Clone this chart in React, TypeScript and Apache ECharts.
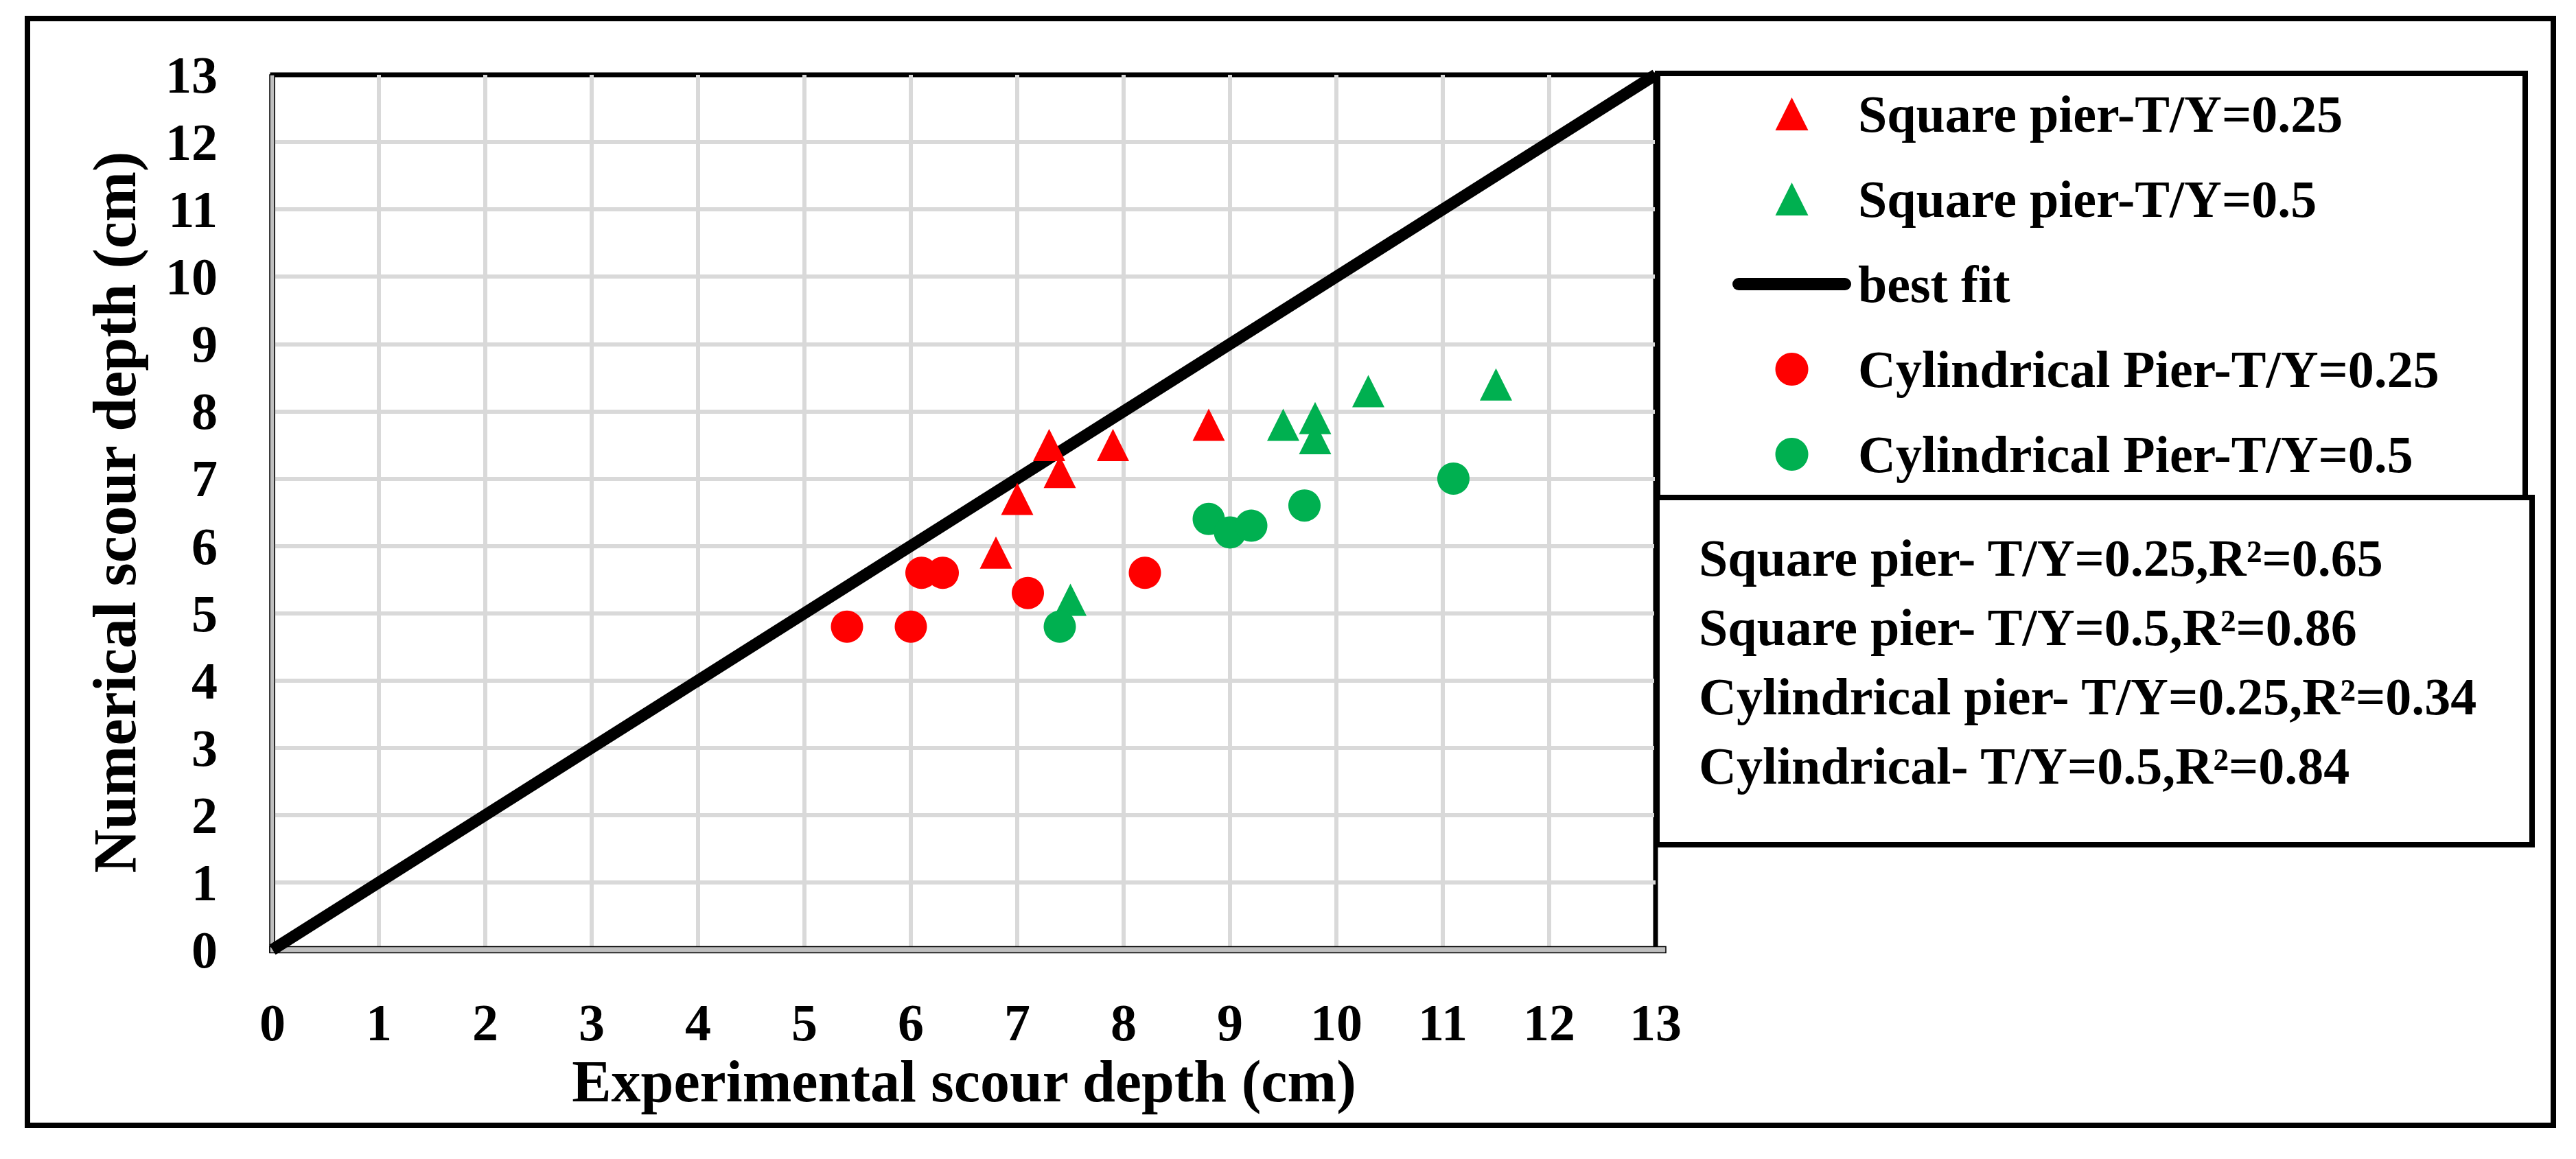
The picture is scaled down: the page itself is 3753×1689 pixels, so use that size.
import React, { useEffect, useRef } from "react";
import * as echarts from "echarts";

const FONT = "'Liberation Serif', 'Times New Roman', serif";

const axisMin = 0;
const axisMax = 13;
const axisInterval = 1;

const seriesNames = [
  "Square pier-T/Y=0.25",
  "Square pier-T/Y=0.5",
  "best fit",
  "Cylindrical Pier-T/Y=0.25",
  "Cylindrical Pier-T/Y=0.5",
];

const squarePier025 = [
  [7.3, 7.5],
  [7.4, 7.1],
  [7.9, 7.5],
  [7.0, 6.7],
  [6.8, 5.9],
  [8.8, 7.8],
];
const squarePier05 = [
  [9.5, 7.8],
  [9.8, 7.9],
  [9.8, 7.6],
  [10.3, 8.3],
  [11.5, 8.4],
  [7.5, 5.2],
];
const cylPier025 = [
  [5.4, 4.8],
  [6.0, 4.8],
  [6.1, 5.6],
  [6.3, 5.6],
  [7.1, 5.3],
  [8.2, 5.6],
];
const cylPier05 = [
  [7.4, 4.8],
  [8.8, 6.4],
  [9.0, 6.2],
  [9.2, 6.3],
  [9.7, 6.6],
  [11.1, 7.0],
];
const bestFit = [
  [0, 0],
  [13, 13],
];

const statsLines = [
  "Square pier- T/Y=0.25,R²=0.65",
  "Square pier- T/Y=0.5,R²=0.86",
  "Cylindrical pier- T/Y=0.25,R²=0.34",
  "Cylindrical- T/Y=0.5,R²=0.84",
];

const RED = "#ff0000";
const GREEN = "#00b050";

const TRIANGLE_ICON = "path://M24,0 L48,48 L0,48 Z";
const LINE_ICON = "path://M9,0 L164,0 A9,9 0 0 1 164,18 L9,18 A9,9 0 0 1 9,0 Z";

export default function App() {
  const ref = useRef<HTMLDivElement>(null);

  useEffect(() => {
    if (!ref.current) return;
    const chart = echarts.init(ref.current, undefined, { renderer: "svg" });

    const labelStyle = {
      fontFamily: FONT,
      fontWeight: "bold" as const,
      fontSize: 76,
      color: "#000",
    };

    const gridLeft = 397;
    const gridTop = 109;
    const gridW = 2015;
    const gridH = 1275;

    const option: any = {
      animation: false,
      backgroundColor: "#fff",
      textStyle: { fontFamily: FONT },
      grid: {
        left: gridLeft,
        top: gridTop,
        width: gridW,
        height: gridH,
        show: true,
        borderColor: "#000",
        borderWidth: 7,
        backgroundColor: "transparent",
      },
      xAxis: {
        type: "value",
        min: axisMin,
        max: axisMax,
        interval: axisInterval,
        axisLine: { show: false },
        axisTick: { show: false },
        splitLine: {
          show: true,
          showMinLine: false,
          showMaxLine: false,
          lineStyle: { color: "#d9d9d9", width: 6 },
        },
        axisLabel: { ...labelStyle, margin: 106, verticalAlign: "middle" },
        name: "Experimental scour depth (cm)",
        nameLocation: "middle",
        nameGap: 190,
        nameTextStyle: {
          fontFamily: FONT,
          fontWeight: "bold",
          fontSize: 86,
          color: "#000",
          verticalAlign: "middle",
        },
      },
      yAxis: {
        type: "value",
        min: axisMin,
        max: axisMax,
        interval: axisInterval,
        axisLine: { show: false },
        axisTick: { show: false },
        splitLine: {
          show: true,
          showMinLine: false,
          showMaxLine: false,
          lineStyle: { color: "#d9d9d9", width: 6 },
        },
        axisLabel: { ...labelStyle, margin: 80 },
        name: "Numerical scour depth (cm)",
        nameLocation: "middle",
        nameGap: 230,
        nameTextStyle: {
          fontFamily: FONT,
          fontWeight: "bold",
          fontSize: 88,
          color: "#000",
          verticalAlign: "middle",
        },
      },
      legend: {
        orient: "vertical",
        left: 2524,
        top: 104,
        padding: 0,
        z: 10,
        itemWidth: 173,
        itemHeight: 48,
        itemGap: 0,
        symbolKeepAspect: true,
        selectedMode: false,
        textStyle: {
          ...labelStyle,
          lineHeight: 124,
          padding: [0, 0, 0, 5],
        },
        data: [
          { name: seriesNames[0], icon: TRIANGLE_ICON },
          { name: seriesNames[1], icon: TRIANGLE_ICON },
          { name: seriesNames[2], icon: LINE_ICON },
          { name: seriesNames[3], icon: "circle" },
          { name: seriesNames[4], icon: "circle" },
        ],
      },
      graphic: [
        {
          type: "rect",
          z: 1,
          shape: { x: 393, y: gridTop, width: 7, height: gridH + 4 },
          style: { fill: "#bfbfbf", stroke: "#000", lineWidth: 1.5 },
        },
        {
          type: "rect",
          z: 1,
          shape: { x: 393, y: gridTop + gridH - 4.5, width: gridW + 19, height: 9 },
          style: { fill: "#bfbfbf", stroke: "#000", lineWidth: 1.5 },
        },
        {
          type: "rect",
          z: 5,
          shape: { x: 40, y: 27, width: 3680, height: 1613 },
          style: { fill: "none", stroke: "#000", lineWidth: 8 },
        },
        {
          type: "rect",
          z: 5,
          shape: { x: 2415, y: 107, width: 1264, height: 618 },
          style: { fill: "none", stroke: "#000", lineWidth: 8 },
        },
        {
          type: "rect",
          z: 5,
          shape: { x: 2414, y: 725, width: 1275, height: 506 },
          style: { fill: "none", stroke: "#000", lineWidth: 8 },
        },
        ...statsLines.map((t, i) => ({
          type: "text",
          z: 6,
          x: 2475,
          y: 813 + i * 101,
          style: {
            text: t,
            fontFamily: FONT,
            fontWeight: "bold",
            fontSize: 76,
            fill: "#000",
            verticalAlign: "middle",
            align: "left",
          },
        })),
      ],
      series: [
        {
          name: seriesNames[2],
          type: "line",
          data: bestFit,
          symbol: "none",
          z: 2,
          lineStyle: { color: "#000", width: 17 },
          itemStyle: { color: "#000" },
        },
        {
          name: seriesNames[0],
          type: "scatter",
          data: squarePier025,
          symbol: "triangle",
          symbolSize: 47,
          z: 3,
          itemStyle: { color: RED, opacity: 1 },
        },
        {
          name: seriesNames[1],
          type: "scatter",
          data: squarePier05,
          symbol: "triangle",
          symbolSize: 47,
          z: 3,
          itemStyle: { color: GREEN, opacity: 1 },
        },
        {
          name: seriesNames[3],
          type: "scatter",
          data: cylPier025,
          symbol: "circle",
          symbolSize: 47,
          z: 4,
          itemStyle: { color: RED, opacity: 1 },
        },
        {
          name: seriesNames[4],
          type: "scatter",
          data: cylPier05,
          symbol: "circle",
          symbolSize: 47,
          z: 4,
          itemStyle: { color: GREEN, opacity: 1 },
        },
      ],
    };

    chart.setOption(option);
    return () => chart.dispose();
  }, []);

  return (
    <div
      ref={ref}
      style={{ position: "absolute", left: 0, top: 0, width: 3753, height: 1689 }}
    />
  );
}
